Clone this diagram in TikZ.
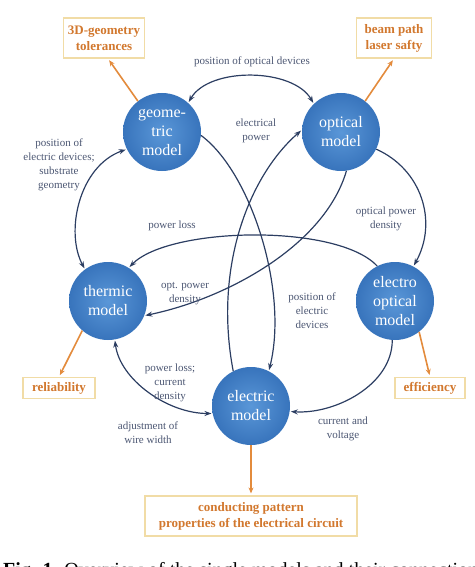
\documentclass[tikz,border=0pt]{standalone}
\usepackage{fontspec}
\setmainfont{Liberation Serif}
\usetikzlibrary{arrows.meta}
\definecolor{navy}{HTML}{2C3E62}
\definecolor{lbl}{HTML}{4B5672}
\definecolor{org}{HTML}{D2782E}
\definecolor{orgline}{HTML}{E38B3C}
\definecolor{boxline}{HTML}{F1DCA6}
\definecolor{ballin}{HTML}{5A97D8}
\definecolor{ballout}{HTML}{3874BC}
\begin{document}
\begin{tikzpicture}[x=1pt,y=-1pt,
  model/.style={circle, minimum size=78pt, inner sep=0pt, inner color=ballin, outer color=ballout, text=white, font=\fontsize{16}{19}\selectfont, align=center},
  outbox/.style={draw=boxline, line width=1.2pt, fill=white, text=org, font=\fontsize{13}{16}\selectfont\bfseries, align=center, inner sep=0pt},
  edgelabel/.style={text=lbl, font=\fontsize{11}{14}\selectfont, align=center, inner sep=0pt},
  navyarrow/.style={draw=navy, line width=1.2pt, -{Stealth[length=7pt,width=5pt]}, shorten >=1pt},
  navyboth/.style={navyarrow, {Stealth[length=7pt,width=5pt]}-{Stealth[length=7pt,width=5pt]}, shorten <=1pt},
  outarrow/.style={draw=orgline, line width=1.6pt, -{Stealth[length=6pt,width=5pt]}, shorten >=2pt}]
\useasboundingbox (0,0) rectangle (474,567);
\clip (0,0) rectangle (474,567);

% models
\node[model] (geo) at (162,132) {geome-\\tric\\model};
\node[model] (opt) at (341,132) {optical\\model};
\node[model] (the) at (108,301) {thermic\\model};
\node[model] (eo) at (395,301) {electro\\optical\\model};
\node[model] (ele) at (251,406) {electric\\model};

% output boxes
\node[outbox, minimum width=81pt, minimum height=40pt] (b3d) at (104,38) {3D-geometry\\tolerances};
\node[outbox, minimum width=75pt, minimum height=40pt] (bbeam) at (394,38) {beam path\\laser safty};
\node[outbox, minimum width=72pt, minimum height=21pt] (brel) at (59,388) {reliability};
\node[outbox, minimum width=70pt, minimum height=21pt] (beff) at (430,388) {efficiency};
\node[outbox, minimum width=212pt, minimum height=40pt] (bcond) at (251,516) {conducting pattern\\properties of the electrical circuit};

% orange arrows
\draw[outarrow] (geo.128) -- ([xshift=4pt]b3d.south);
\draw[outarrow] (opt.52) -- (bbeam.south);
\draw[outarrow] (the.229) -- (brel.north);
\draw[outarrow] (eo.308) -- (beff.north);
\draw[outarrow] (ele.south) -- (bcond.north);

% navy connectors
\draw[navyboth] (geo.48) to[out=60,in=120,looseness=0.85] (opt.134);
\draw[navyboth] (geo.206) .. controls +(-48,17) and +(-20,-37) .. (the.126);
\draw[navyarrow] (opt.334) .. controls +(45,20) and +(25,-45) .. (eo.62);
\draw[navyarrow] (eo.117) .. controls +(-40,-43) and +(40,-41) .. (the.58);
\draw[navyarrow] (opt.278) .. controls +(-22,75) and +(82,-17) .. (the.338);
\draw[navyarrow] (ele.117) .. controls +(-20,-105) and +(-52,45) .. (opt.177);
\draw[navyarrow] (geo.355) .. controls +(50,37) and +(20,-80) .. (ele.63);
\draw[navyboth] (the.280) .. controls +(5,40) and +(-45,0) .. (ele.191);
\draw[navyarrow] (eo.266) .. controls +(0,45) and +(45,3) .. (ele.352);

% labels
\node[edgelabel] (l1) at (252,62) {position of optical devices};
\node[edgelabel] (l2) at (256,131) {electrical\\power};
\node[edgelabel] (l3) at (59,165) {position of\\electric devices;\\substrate\\geometry};
\node[edgelabel] (l4) at (386,219) {optical power\\density};
\node[edgelabel] (l5) at (172,226) {power loss};
\node[edgelabel] (l6) at (185,294) {opt. power\\density};
\node[edgelabel] (l7) at (312,311) {position of\\electric\\devices};
\node[edgelabel] (l8) at (170,383) {power loss;\\current\\density};
\node[edgelabel] (l9) at (148,433) {adjustment of\\wire width};
\node[edgelabel] (l10) at (343,429) {current and\\voltage};

% caption (cut by the frame)
\node[anchor=base west, font=\fontsize{20}{24}\selectfont, inner sep=0pt] (cap) at (3,576) {\textbf{Fig. 1.} Overview of the single models and their connections};
\end{tikzpicture}
\end{document}
